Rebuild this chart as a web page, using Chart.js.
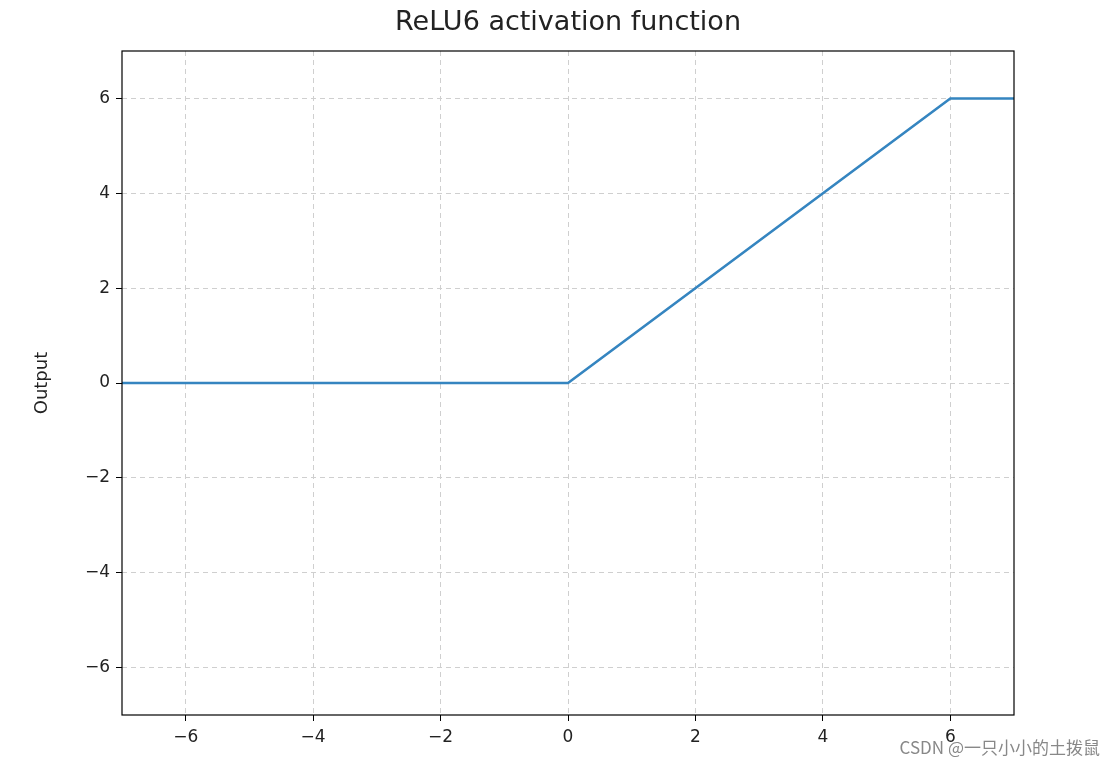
<!DOCTYPE html>
<html><head><meta charset="utf-8">
<script src="https://cdn.jsdelivr.net/npm/chart.js@4/dist/chart.umd.min.js"></script>
<style>html,body{margin:0;padding:0;background:#fff}#w{width:1116px;height:767px}</style>
</head><body><div id="w"><canvas id="c"></canvas></div>
<script>
const xValues = [-7, 0, 6, 7];
const yValues = [0, 0, 6, 6];
const tickValues = [-6, -4, -2, 0, 2, 4, 6];
const chartTitle = 'ReLU6 activation function';
const yTitle = 'Output';
const watermark = 'CSDN @一只小小的土拨鼠';

const fmt = v => String(v).replace('-', '\u2212');
const setTicks = s => { s.ticks = tickValues.map(v => ({value: v})); };
const overlay = {
  id: 'overlay',
  afterDraw(chart) {
    const {ctx, chartArea: a} = chart;
    ctx.save();
    ctx.strokeStyle = '#000'; ctx.lineWidth = 1.2;
    ctx.strokeRect(a.left, a.top, a.right - a.left, a.bottom - a.top);
    ctx.fillStyle = '#222'; ctx.font = '27px "DejaVu Sans"';
    ctx.textAlign = 'center'; ctx.textBaseline = 'middle';
    ctx.fillText(chartTitle, (a.left + a.right) / 2, 23);
    ctx.fillStyle = '#888'; ctx.font = '17px "Noto Sans CJK SC"';
    ctx.textAlign = 'right';
    ctx.fillText(watermark, 1100, 748);
    ctx.restore();
  }
};
new Chart(document.getElementById('c'), {
  type: 'line',
  data: { datasets: [{ data: xValues.map((x, i) => ({x, y: yValues[i]})),
    borderColor: '#3585c0', borderWidth: 2.6, pointRadius: 0, fill: false, tension: 0 }] },
  options: {
    responsive: true, maintainAspectRatio: false, animation: false,
    layout: { padding: { top: 51, right: 102, left: 0, bottom: 0 } },
    plugins: { legend: { display: false }, tooltip: { enabled: false }, title: { display: false } },
    scales: {
      x: { type: 'linear', min: -7, max: 7, afterBuildTicks: setTicks,
        afterFit: s => { s.height = 52; },
        grid: { color: '#cfcfcf', tickColor: '#000', tickLength: 6, tickBorderDash: [] },
        border: { display: false, dash: [5, 4] },
        ticks: { color: '#222', font: { size: 17, family: 'DejaVu Sans' }, padding: 6, callback: fmt, maxRotation: 0 } },
      y: { type: 'linear', min: -7, max: 7, afterBuildTicks: setTicks,
        afterFit: s => { s.width = 122; },
        title: { display: true, text: yTitle, color: '#222', font: { size: 18, family: 'DejaVu Sans' }, padding: { top: 32, bottom: 0 } },
        grid: { color: '#cfcfcf', tickColor: '#000', tickLength: 6, tickBorderDash: [] },
        border: { display: false, dash: [5, 4] },
        ticks: { color: '#222', font: { size: 17, family: 'DejaVu Sans' }, padding: 6, callback: fmt } }
    }
  },
  plugins: [overlay]
});
</script></body></html>
